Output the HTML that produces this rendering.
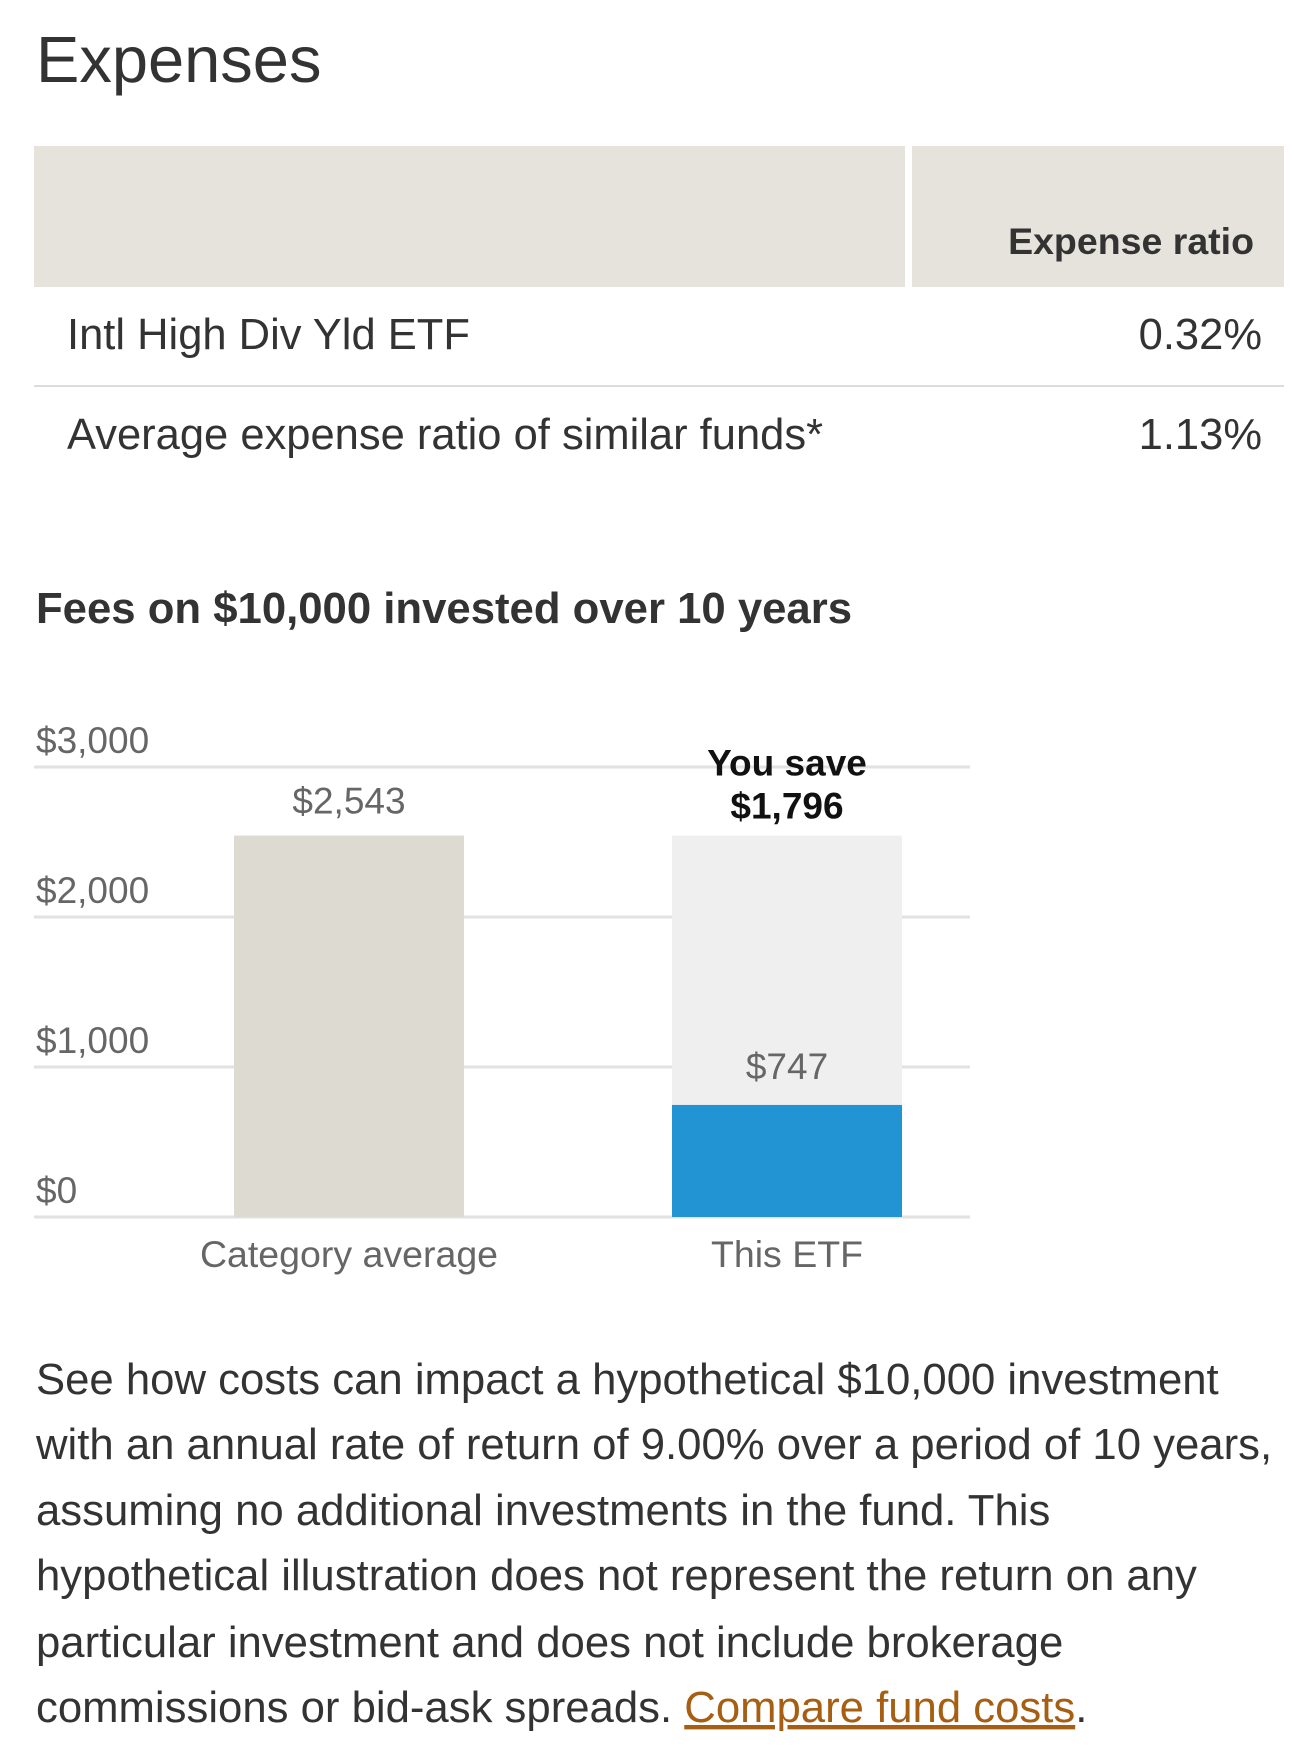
<!DOCTYPE html>
<html><head><meta charset="utf-8"><style>
html,body{margin:0;padding:0;background:#fff;}
svg{display:block;font-family:"Liberation Sans",Arial,sans-serif;}
</style></head><body>
<svg width="1315" height="1763" viewBox="0 0 1315 1763">
<text x="36" y="82" font-size="65" fill="#333">Expenses</text>
<rect x="34" y="146" width="871" height="141" fill="#e6e3dc"/>
<rect x="912" y="146" width="372" height="141" fill="#e6e3dc"/>
<text x="1254" y="254" font-size="37.5" font-weight="bold" fill="#333" text-anchor="end">Expense ratio</text>
<text x="67" y="349" font-size="43.5" fill="#333">Intl High Div Yld ETF</text>
<text x="1262" y="349" font-size="43.5" fill="#333" text-anchor="end">0.32%</text>
<rect x="34" y="385" width="1250" height="2" fill="#dcdcdc"/>
<text x="67" y="449" font-size="43.5" fill="#333">Average expense ratio of similar funds*</text>
<text x="1262" y="449" font-size="43.5" fill="#333" text-anchor="end">1.13%</text>
<text x="36" y="623" font-size="43.7" font-weight="bold" fill="#333">Fees on $10,000 invested over 10 years</text>
<g id="chart"></g>
<g font-size="43.7" fill="#333">
<text x="36" y="1394">See how costs can impact a hypothetical $10,000 investment</text>
<text x="36" y="1459">with an annual rate of return of 9.00% over a period of 10 years,</text>
<text x="36" y="1525">assuming no additional investments in the fund. This</text>
<text x="36" y="1590">hypothetical illustration does not represent the return on any</text>
<text x="36" y="1657">particular investment and does not include brokerage</text>
<text x="36" y="1722">commissions or bid-ask spreads. <tspan fill="#a65e12" text-decoration="underline">Compare fund costs</tspan>.</text>
</g>
</svg>
<script>
const categories = ["Category average", "This ETF"];
const categoryFees = [2543, 2543];
const etfFees = [null, 747];
const savings = [1796];
const tickValues = [0, 1000, 2000, 3000];
const tickLabels = ["$0", "$1,000", "$2,000", "$3,000"];

const NS = "http://www.w3.org/2000/svg";
const g = document.getElementById("chart");
const y0 = 1217, pxPer = 0.15;
const y = v => y0 - v * pxPer;
const barX = i => 234 + i * 438;
const barW = 230;
function mk(tag, attrs, text) {
  const e = document.createElementNS(NS, tag);
  for (const k in attrs) e.setAttribute(k, attrs[k]);
  if (text !== undefined) e.textContent = text;
  g.appendChild(e);
  return e;
}
tickValues.forEach((v, i) => {
  const l = mk("rect", {x: 34, y: y(v) - 1.5, width: 936, height: 3, fill: "#e2e2e2"});
  
  
  const t = mk("text", {x: 36, y: y(v) - 14, "font-size": 37, fill: "#666"}, tickLabels[i]);
  
  
});
categories.forEach((c, i) => {
  const cx = barX(i) + barW / 2;
  const fillC = i === 0 ? "#dddbd1" : "#efefef";
  const b = mk("rect", {x: barX(i), y: y(categoryFees[i]), width: barW, height: categoryFees[i] * pxPer, fill: fillC});
  
  
  if (etfFees[i] != null) {
    const e = mk("rect", {x: barX(i), y: y(etfFees[i]), width: barW, height: etfFees[i] * pxPer, fill: "#2293d3"});
    
    
    const lv = mk("text", {x: cx, y: y(etfFees[i]) - 26, "font-size": 37, fill: "#666", "text-anchor": "middle"}, "$" + etfFees[i].toLocaleString("en-US"));
    
    
    const s1 = mk("text", {x: cx, y: y(categoryFees[i]) - 60, "font-size": 37, "font-weight": "bold", fill: "#111", "text-anchor": "middle"}, "You save");
    
    
    const s2 = mk("text", {x: cx, y: y(categoryFees[i]) - 17, "font-size": 37, "font-weight": "bold", fill: "#111", "text-anchor": "middle"}, "$" + savings[0].toLocaleString("en-US"));
    
    
  } else {
    const lv = mk("text", {x: cx, y: y(categoryFees[i]) - 22, "font-size": 37, fill: "#666", "text-anchor": "middle"}, "$" + categoryFees[i].toLocaleString("en-US"));
    
    
  }
  const xl = mk("text", {x: cx, y: 1267, "font-size": 37.5, fill: "#666", "text-anchor": "middle"}, c);
  
  
});
</script>
</body></html>
